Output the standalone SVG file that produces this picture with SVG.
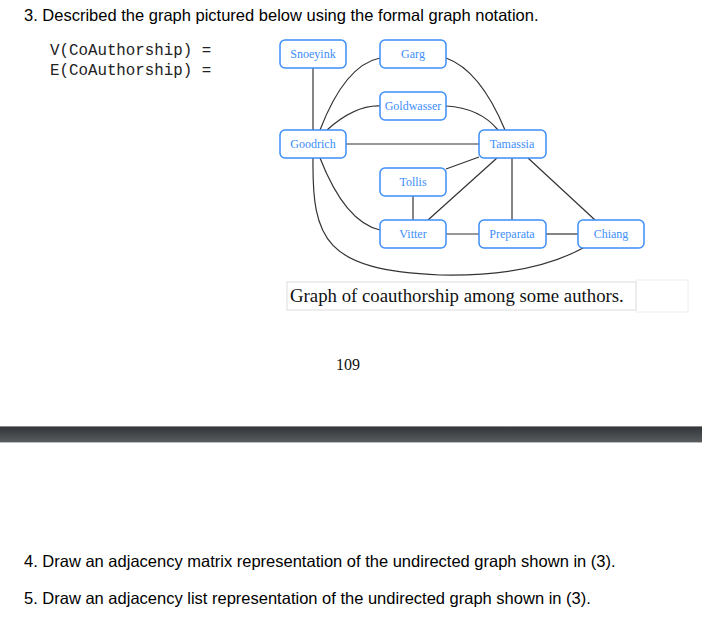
<svg xmlns="http://www.w3.org/2000/svg" width="702" height="617" viewBox="0 0 702 617">
<style>
.n rect{fill:#fff;stroke:#3d8ef8;stroke-width:1.5}
.n text{font-family:"Liberation Serif",serif;font-size:12px;fill:#3d8ef8;text-anchor:middle}
.e path{fill:none;stroke:#333;stroke-width:1.2}
.q{font-family:"Liberation Sans",Arial,sans-serif;font-size:16.5px;fill:#000}
.c{font-family:"Liberation Mono",monospace;font-size:15.8px;fill:#222}
</style>
<rect width="702" height="617" fill="#fff"/>
<text class="q" x="24" y="21">3.  Described the graph pictured below using the formal graph notation.</text>
<text class="c" x="50" y="55">V(CoAuthorship) =</text>
<text class="c" x="50" y="75">E(CoAuthorship) =</text>
<g class="e" id="connectors">
<path d="M313,68V130"/>
<path d="M320,130Q345,65 380,58"/>
<path d="M327,130Q355,105 380,106"/>
<path d="M446,58Q480,70 505,130"/>
<path d="M446,106Q480,108 498,130"/>
<path d="M346,144H479"/>
<path d="M446,169L479,157"/>
<path d="M428,220L497,158"/>
<path d="M512,158V220"/>
<path d="M528,158L595,220"/>
<path d="M413,196V220"/>
<path d="M446,234H479"/>
<path d="M546,234H578"/>
<path d="M320,158Q345,222 380,230"/>
<path d="M313,158C312,240 325,270 440,275Q530,277 583,248"/>
</g>
<g class="n" id="snoeyink"><rect x="280" y="40" width="66" height="28" rx="5"/><text x="313" y="58">Snoeyink</text></g>
<g class="n" id="garg"><rect x="380" y="40" width="66" height="28" rx="5"/><text x="413" y="58">Garg</text></g>
<g class="n" id="goldwasser"><rect x="380" y="92" width="66" height="28" rx="5"/><text x="413" y="110">Goldwasser</text></g>
<g class="n" id="goodrich"><rect x="280" y="130" width="66" height="28" rx="5"/><text x="313" y="148">Goodrich</text></g>
<g class="n" id="tamassia"><rect x="479" y="130" width="67" height="28" rx="5"/><text x="512" y="148">Tamassia</text></g>
<g class="n" id="tollis"><rect x="380" y="168" width="66" height="28" rx="5"/><text x="413" y="186">Tollis</text></g>
<g class="n" id="vitter"><rect x="380" y="220" width="66" height="28" rx="5"/><text x="413" y="238">Vitter</text></g>
<g class="n" id="preparata"><rect x="479" y="220" width="67" height="28" rx="5"/><text x="512" y="238">Preparata</text></g>
<g class="n" id="chiang"><rect x="578" y="220" width="66" height="28" rx="5"/><text x="611" y="238">Chiang</text></g>
<rect x="636" y="280" width="52" height="32" fill="none" stroke="#eee"/>
<rect x="287" y="282" width="349" height="28" fill="#fff" stroke="#ddd"/>
<text x="290" y="302" font-family="Liberation Serif,serif" font-size="18.8" fill="#111">Graph of coauthorship among some authors.</text>
<text x="336" y="370" font-family="Liberation Serif,serif" font-size="16" fill="#111">109</text>
<defs><linearGradient id="bar" x1="0" y1="0" x2="0" y2="1"><stop offset="0" stop-color="#303438"/><stop offset="1" stop-color="#575b5e"/></linearGradient></defs>
<rect x="0" y="426" width="702" height="16" fill="url(#bar)"/>
<line x1="0" y1="426.5" x2="702" y2="426.5" stroke="#888"/>
<line x1="0" y1="442.5" x2="702" y2="442.5" stroke="#bbb"/>
<text class="q" x="24" y="567">4.  Draw an adjacency matrix representation of the undirected graph shown in (3).</text>
<text class="q" x="24" y="604">5.  Draw an adjacency list representation of the undirected graph shown in (3).</text>
</svg>
